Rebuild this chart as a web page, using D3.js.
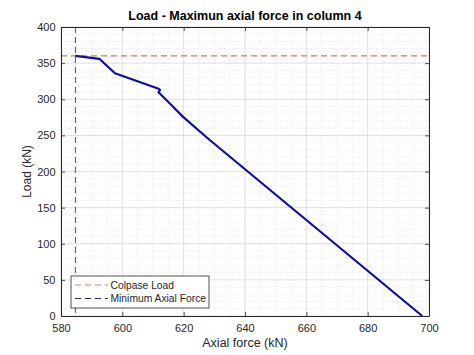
<!DOCTYPE html>
<html>
<head>
<meta charset="utf-8">
<script src="https://cdn.jsdelivr.net/npm/d3@7"></script>
<style>
  html, body { margin: 0; padding: 0; background: #fff; }
  svg { display: block; }
  text { font-family: "Liberation Sans", Arial, Helvetica, sans-serif; }
</style>
</head>
<body>
<svg id="chart" width="474" height="355"></svg>
<script>
// ---- data ----
const axialForce = [584.7, 592.5, 597.6, 611.6, 612.3, 611.8, 615.5, 619.8, 628.5, 697.8];
const loadValues = [360, 356, 336, 315, 313, 309.6, 294, 275.6, 243.6, 0];
const collapseLoad = 360;
const minAxialForce = 584.7;
const xTicks = [580, 600, 620, 640, 660, 680, 700];
const yTicks = [0, 50, 100, 150, 200, 250, 300, 350, 400];
const legendLabels = ["Colpase Load", "Minimum Axial Force"];
const titleText = "Load - Maximun axial force in column 4";
const xLabel = "Axial force (kN)";
const yLabel = "Load (kN)";

// ---- layout ----
const svg = d3.select("#chart");
const L = 61, R = 429, T = 27, B = 316;
const x = d3.scaleLinear().domain([580, 700]).range([L, R]);
const y = d3.scaleLinear().domain([0, 400]).range([B, T]);
const axisCol = "#262626";

// minor grid
const xMinor = d3.range(580, 700.01, 5);
const yMinor = d3.range(0, 400.01, 10);
const g = svg.append("g");
g.selectAll(".xm").data(xMinor).enter().append("line")
  .attr("x1", d => x(d)).attr("x2", d => x(d)).attr("y1", T).attr("y2", B)
  .attr("stroke", "#ececec").attr("stroke-width", 0.8).attr("stroke-dasharray", "2,1");
g.selectAll(".ym").data(yMinor).enter().append("line")
  .attr("y1", d => y(d)).attr("y2", d => y(d)).attr("x1", L).attr("x2", R)
  .attr("stroke", "#ececec").attr("stroke-width", 0.8).attr("stroke-dasharray", "2,1");
// major grid
g.selectAll(".xg").data(xTicks).enter().append("line")
  .attr("x1", d => x(d)).attr("x2", d => x(d)).attr("y1", T).attr("y2", B)
  .attr("stroke", "#dcdcdc").attr("stroke-width", 0.8);
g.selectAll(".yg").data(yTicks).enter().append("line")
  .attr("y1", d => y(d)).attr("y2", d => y(d)).attr("x1", L).attr("x2", R)
  .attr("stroke", "#dcdcdc").attr("stroke-width", 0.8);

// reference lines
svg.append("line")
  .attr("x1", L).attr("x2", R).attr("y1", y(collapseLoad)).attr("y2", y(collapseLoad))
  .attr("stroke", "#d6766c").attr("stroke-width", 1.2).attr("stroke-dasharray", "6,4");
svg.append("line")
  .attr("x1", x(minAxialForce)).attr("x2", x(minAxialForce)).attr("y1", T).attr("y2", B)
  .attr("stroke", "#4a4ac0").attr("stroke-width", 1).attr("stroke-dasharray", "6,4");

// main line
const pts = axialForce.map((v, i) => [v, loadValues[i]]);
svg.append("path")
  .datum(pts)
  .attr("fill", "none")
  .attr("stroke", "#0e0e98")
  .attr("stroke-width", 2.2)
  .attr("stroke-linejoin", "round")
  .attr("d", d3.line().x(d => x(d[0])).y(d => y(d[1])));

// axes
const fontTick = "11px";
const xAxis = d3.axisBottom(x).tickValues(xTicks).tickSizeInner(-4).tickSizeOuter(0).tickPadding(8);
const xa = svg.append("g").attr("transform", `translate(0,${B})`).call(xAxis);
const xAxisTop = d3.axisTop(x).tickValues(xTicks).tickSizeInner(-4).tickSizeOuter(0).tickFormat("");
const xt = svg.append("g").attr("transform", `translate(0,${T})`).call(xAxisTop);
const yAxis = d3.axisLeft(y).tickValues(yTicks).tickSizeInner(-4).tickSizeOuter(0).tickPadding(5.5);
const ya = svg.append("g").attr("transform", `translate(${L},0)`).call(yAxis);
const yAxisRight = d3.axisRight(y).tickValues(yTicks).tickSizeInner(-4).tickSizeOuter(0).tickFormat("");
const yr = svg.append("g").attr("transform", `translate(${R},0)`).call(yAxisRight);
[xa, xt, ya, yr].forEach(a => {
  a.select(".domain").attr("stroke", axisCol).attr("stroke-width", 1);
  a.selectAll(".tick line").attr("stroke", axisCol).attr("stroke-width", 0.8);
  a.selectAll("text").attr("fill", axisCol).style("font-size", fontTick)
    .style("font-family", '"Liberation Sans", Arial, sans-serif');
});

// title & labels
svg.append("text").attr("x", (L + R) / 2).attr("y", 20).attr("text-anchor", "middle")
  .style("font-size", "12.5px").style("font-weight", "bold").attr("fill", "#000").text(titleText);
svg.append("text").attr("x", (L + R) / 2).attr("y", 347).attr("text-anchor", "middle")
  .style("font-size", "12.5px").attr("fill", axisCol).text(xLabel);
svg.append("text").attr("transform", `translate(31,${(T + B) / 2}) rotate(-90)`).attr("text-anchor", "middle")
  .style("font-size", "12px").attr("fill", axisCol).text(yLabel);

// legend
const lg = svg.append("g");
lg.append("rect").attr("x", 71).attr("y", 276).attr("width", 138).attr("height", 32)
  .attr("fill", "#fff").attr("stroke", axisCol).attr("stroke-width", 0.8);
const legendColors = ["#d6766c", "#2a2a6a"];
legendLabels.forEach((lab, i) => {
  const cy = 285 + i * 13.5;
  lg.append("line").attr("x1", 75).attr("x2", 108).attr("y1", cy).attr("y2", cy)
    .attr("stroke", legendColors[i]).attr("stroke-width", 1).attr("stroke-dasharray", "6,4");
  lg.append("text").attr("x", 110.5).attr("y", cy).attr("dy", "0.35em")
    .style("font-size", "10.3px").attr("fill", axisCol).text(lab);
});
</script>
</body>
</html>
